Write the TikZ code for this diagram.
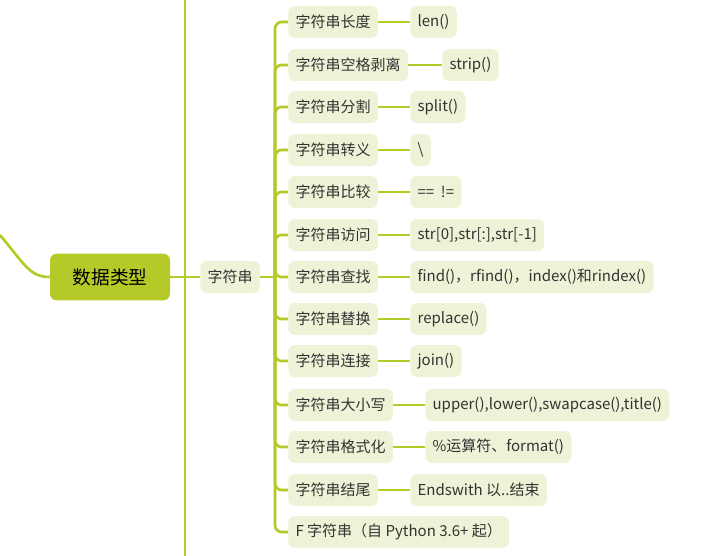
\documentclass[tikz,border=0pt]{standalone}
\usepackage{fontspec}
\setmainfont{Noto Sans CJK SC}
\definecolor{ln}{HTML}{B5C928}
\definecolor{bx}{HTML}{EFF2D6}
\definecolor{tx}{HTML}{333333}
\begin{document}
\begin{tikzpicture}[x=0.75pt,y=-0.75pt,
  lnk/.style={draw=ln,line width=2pt},
  sub/.style={fill=bx,rounded corners=5pt,text=tx,font=\fontsize{11.25}{13}\selectfont,minimum height=24pt,inner xsep=5.5pt,anchor=west},
  top/.style={fill=ln,rounded corners=5pt,text=black,font=\fontsize{14}{16}\selectfont,minimum width=90pt,minimum height=35pt}]
\useasboundingbox (0,0) rectangle (720,556);
\node[top] (m) at (110,277) {数据类型};
\node[sub] (s) at (200,277) {字符串};
\node[sub,minimum width=56pt] (x) at (200,575) {};
\draw[lnk] (185,0) -- (185,556);
\draw[lnk] (0,235) .. controls (25,265) and (30,277) .. (m.west);
\draw[lnk] (m.east) -- (s.west);
\coordinate (b) at (275,277);
\draw[lnk] (s.east) -- (b);
\foreach \n/\y/\t in {c1/22/字符串长度,c2/65/字符串空格剥离,c3/107/字符串分割,c4/150/字符串转义,c5/192/字符串比较,c6/235/字符串访问,c7/277/字符串查找,c8/319/字符串替换,c9/361/字符串连接,c10/405/字符串大小写,c11/447/字符串格式化,c12/490/字符串结尾,c13/532/F 字符串（自 Python 3.6+ 起）}{
  \node[sub] (\n) at (288,\y) {\t};
  \draw[lnk,rounded corners=5pt] (b) |- (\n.west);
}
\foreach \c/\x/\t in {c1/410/len(),c2/442/strip(),c3/410/split(),c4/410/\textbackslash,c5/410/{==\ \ !=},c6/410/{str[0],str[:],str[-1]},c7/410/{find()，rfind()，index()和rindex()},c8/410/replace(),c9/410/join(),c10/425/{upper(),lower(),swapcase(),title()},c11/425/{\%运算符、format()},c12/410/Endswith 以..结束}{
  \node[sub] (l\c) at (\x,0 |- \c) {\t};
  \draw[lnk] (\c.east) -- (l\c.west);
}
\end{tikzpicture}
\end{document}
